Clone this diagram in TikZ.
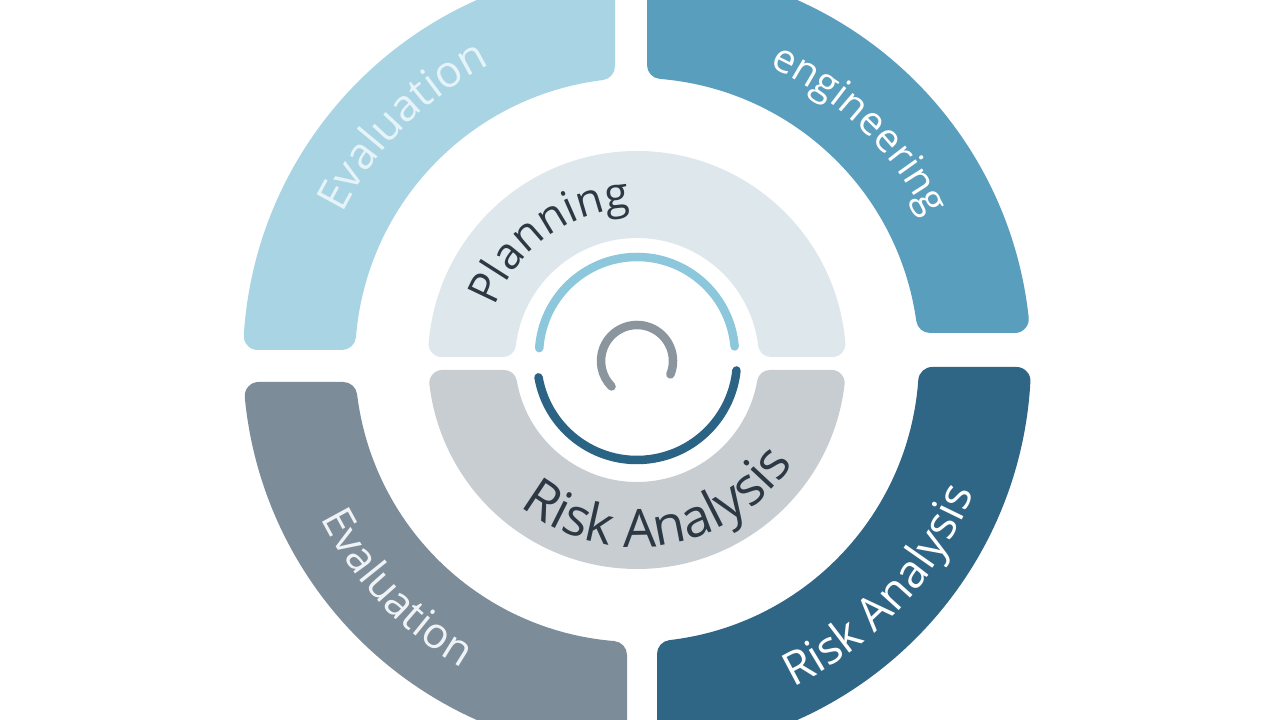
\documentclass[tikz,border=0pt]{standalone}
\usepackage{fontspec}
\setsansfont{Open Sans}
\usetikzlibrary{decorations.text}
\definecolor{tlc}{HTML}{A9D4E3}
\definecolor{trc}{HTML}{5A9EBE}
\definecolor{blc}{HTML}{7D8C99}
\definecolor{brc}{HTML}{2F6585}
\definecolor{upc}{HTML}{DEE7EB}
\definecolor{loc}{HTML}{C8CDD2}
\definecolor{arcblue}{HTML}{8CC7DC}
\definecolor{arcdark}{HTML}{2B6384}
\definecolor{arcgray}{HTML}{8A959E}
\definecolor{inktxt}{HTML}{2C3843}
\definecolor{tltxt}{HTML}{E6F3F8}
\definecolor{bltxt}{HTML}{F0F3F5}

\newcommand{\quadseg}[5]{%
  \begin{scope}[xscale=#2,yscale=#3]
  \pgfmathsetmacro\segRo{3.94-0.14}
  \pgfmathsetmacro\segRi{2.82+0.14}
  \pgfmathsetmacro\segA{#4+0.14}
  \pgfmathsetmacro\segB{#5+0.14}
  \pgfmathsetmacro\angOA{acos(\segA/\segRo)}
  \pgfmathsetmacro\angOB{asin(\segB/\segRo)}
  \pgfmathsetmacro\angIA{acos(\segA/\segRi)}
  \pgfmathsetmacro\angIB{asin(\segB/\segRi)}
  \filldraw[fill=#1,draw=#1,line width=0.28cm,line join=round]
    (\angOA:\segRo) arc[start angle=\angOA,end angle=\angOB,radius=\segRo]
    -- (\angIB:\segRi) arc[start angle=\angIB,end angle=\angIA,radius=\segRi] -- cycle;
  \end{scope}}

\newcommand{\halfring}[3]{%
  \begin{scope}[yscale=#2]
  \pgfmathsetmacro\hRo{2.09-0.13}
  \pgfmathsetmacro\hRi{1.22+0.13}
  \pgfmathsetmacro\hB{#3+0.13}
  \pgfmathsetmacro\hAO{asin(\hB/\hRo)}
  \pgfmathsetmacro\hAOc{180-\hAO}
  \pgfmathsetmacro\hAI{asin(\hB/\hRi)}
  \pgfmathsetmacro\hAIc{180-\hAI}
  \filldraw[fill=#1,draw=#1,line width=0.26cm,line join=round]
    (\hAO:\hRo) arc[start angle=\hAO,end angle=\hAOc,radius=\hRo]
    -- (\hAIc:\hRi) arc[start angle=\hAIc,end angle=\hAI,radius=\hRi] -- cycle;
  \end{scope}}

\newcommand{\arctext}[6]{%
  \path[decorate,decoration={text along path,text align=center,text color=#1,
    text={|\sffamily\fontsize{#2}{#2}\selectfont|#6}}]
    (#4:#3) arc[start angle=#4,end angle=#5,radius=#3];}

\tikzset{ringarc/.style={line width=0.085cm,line cap=round}}

\begin{document}
\begin{tikzpicture}
\fill[white] (-6.37,-3.6) rectangle (6.43,3.6);
\useasboundingbox (-6.37,-3.6) rectangle (6.43,3.6);
\clip (-6.37,-3.6) rectangle (6.43,3.6);

% outer quadrant segments
\quadseg{tlc}{-1}{1}{0.22}{0.10}
\quadseg{trc}{1}{1}{0.10}{0.27}
\quadseg{blc}{-1}{-1}{0.10}{0.22}
\quadseg{brc}{1}{-1}{0.20}{0.07}

% inner half rings
\halfring{upc}{1}{0.03}
\halfring{loc}{-1}{0.10}

% centre arcs
\draw[ringarc,arcblue] (5:0.98) ++(0,0.05) arc[start angle=5,end angle=176,radius=0.98];
\draw[ringarc,arcdark] (190:1.0) arc[start angle=190,end angle=354,radius=1.0];
\draw[ringarc,arcgray] (0,-0.01) ++(-22:0.36) arc[start angle=-22,end angle=225,radius=0.36];

% outer labels
\arctext{tltxt}{12.5}{3.29}{175}{95}{Evaluation}
\arctext{white}{11.4}{3.22}{86}{6}{engineering}
\arctext{bltxt}{12.2}{3.54}{183.5}{263.5}{Evaluation}
\arctext{white}{13.1}{3.62}{-88}{2}{Risk Analysis}

% inner labels
\arctext{inktxt}{12.5}{1.52}{176}{76}{Planning}
\arctext{inktxt}{15}{1.87}{200}{358}{Risk Analysis}
\end{tikzpicture}
\end{document}
